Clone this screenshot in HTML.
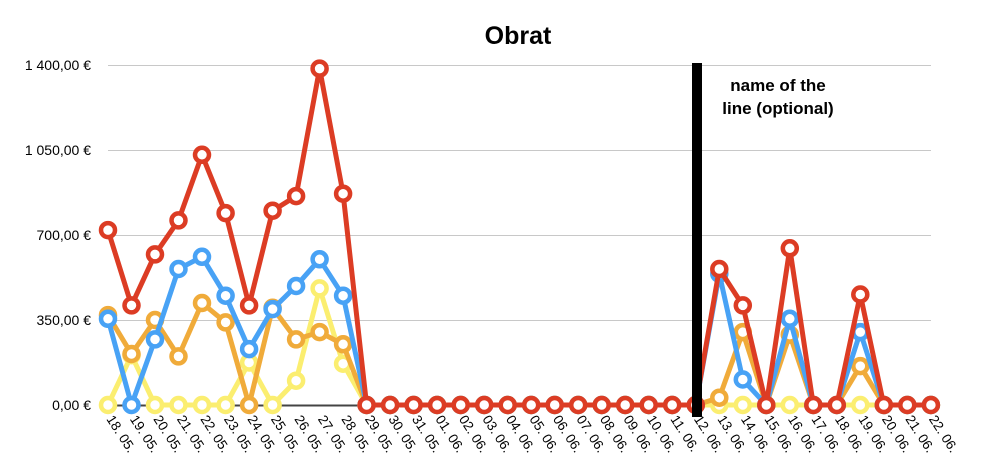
<!DOCTYPE html>
<html><head><meta charset="utf-8"><style>
body{margin:0;background:#fff}
svg{display:block;font-family:"Liberation Sans",sans-serif}
</style></head><body>
<svg id="s" width="982" height="462" xmlns="http://www.w3.org/2000/svg">
<text x="518" y="44" text-anchor="middle" font-size="25" font-weight="bold">Obrat</text>
<g stroke="#c8c8c8" stroke-width="1">
<line x1="108" x2="931" y1="65.5" y2="65.5"/>
<line x1="108" x2="931" y1="150.5" y2="150.5"/>
<line x1="108" x2="931" y1="235.5" y2="235.5"/>
<line x1="108" x2="931" y1="320.5" y2="320.5"/>
</g>
<line x1="100" x2="931" y1="405.5" y2="405.5" stroke="#444" stroke-width="2"/>
<g font-size="14" text-anchor="end" fill="#000">
<text x="91" y="70">1 400,00 €</text>
<text x="91" y="155">1 050,00 €</text>
<text x="91" y="240">700,00 €</text>
<text x="91" y="325">350,00 €</text>
<text x="91" y="410">0,00 €</text>
</g>
<g id="lbl" font-size="13.5">
<text transform="translate(106,419) rotate(57)">18. 05.</text>
<text transform="translate(129.5,419) rotate(57)">19. 05.</text>
<text transform="translate(153,419) rotate(57)">20. 05.</text>
<text transform="translate(176.5,419) rotate(57)">21. 05.</text>
<text transform="translate(200,419) rotate(57)">22. 05.</text>
<text transform="translate(223.5,419) rotate(57)">23. 05.</text>
<text transform="translate(247,419) rotate(57)">24. 05.</text>
<text transform="translate(270.5,419) rotate(57)">25. 05.</text>
<text transform="translate(294,419) rotate(57)">26. 05.</text>
<text transform="translate(317.5,419) rotate(57)">27. 05.</text>
<text transform="translate(341,419) rotate(57)">28. 05.</text>
<text transform="translate(364.5,419) rotate(57)">29. 05.</text>
<text transform="translate(388,419) rotate(57)">30. 05.</text>
<text transform="translate(411.5,419) rotate(57)">31. 05.</text>
<text transform="translate(435,419) rotate(57)">01. 06.</text>
<text transform="translate(458.5,419) rotate(57)">02. 06.</text>
<text transform="translate(482,419) rotate(57)">03. 06.</text>
<text transform="translate(505.5,419) rotate(57)">04. 06.</text>
<text transform="translate(529,419) rotate(57)">05. 06.</text>
<text transform="translate(552.5,419) rotate(57)">06. 06.</text>
<text transform="translate(576,419) rotate(57)">07. 06.</text>
<text transform="translate(599.5,419) rotate(57)">08. 06.</text>
<text transform="translate(623,419) rotate(57)">09. 06.</text>
<text transform="translate(646.5,419) rotate(57)">10. 06.</text>
<text transform="translate(670,419) rotate(57)">11. 06.</text>
<text transform="translate(693.5,419) rotate(57)">12. 06.</text>
<text transform="translate(717,419) rotate(57)">13. 06.</text>
<text transform="translate(740.5,419) rotate(57)">14. 06.</text>
<text transform="translate(764,419) rotate(57)">15. 06.</text>
<text transform="translate(787.5,419) rotate(57)">16. 06.</text>
<text transform="translate(811,419) rotate(57)">17. 06.</text>
<text transform="translate(834.5,419) rotate(57)">18. 06.</text>
<text transform="translate(858,419) rotate(57)">19. 06.</text>
<text transform="translate(881.5,419) rotate(57)">20. 06.</text>
<text transform="translate(905,419) rotate(57)">21. 06.</text>
<text transform="translate(928.5,419) rotate(57)">22. 06.</text>
</g>
<g id="series"></g>
<rect x="692" y="63" width="10" height="354" fill="#000"/>
<text x="778" y="91" text-anchor="middle" font-size="17" font-weight="bold">name of the</text>
<text x="778" y="114" text-anchor="middle" font-size="17" font-weight="bold">line (optional)</text>
</svg>
<script>
var z=new Array(36).fill(0);
function mk(a){var r=z.slice();for(var k in a)r[k]=a[k];return r;}
var series=[
 ["#fbee70",{1:205,6:175,8:100,9:480,10:170}],
 ["#f0ab3a",{0:370,1:210,2:350,3:200,4:420,5:340,6:0,7:400,8:270,9:300,10:250,26:30,27:300,29:290,32:160}],
 ["#48a2f5",{0:355,1:0,2:270,3:560,4:610,5:450,6:230,7:395,8:490,9:600,10:450,26:540,27:105,29:355,32:300}],
 ["#dc3c24",{0:720,1:410,2:620,3:760,4:1030,5:790,6:410,7:800,8:860,9:1385,10:870,26:560,27:410,29:645,32:455}]
];
var g=document.getElementById('series'),h="";
series.forEach(function(s){
 var d=mk(s[1]),pts=d.map(function(v,i){return (108+i*23.51).toFixed(1)+","+(405-v*0.2429).toFixed(1)});
 h+='<polyline fill="none" stroke="'+s[0]+'" stroke-width="5" stroke-linejoin="round" points="'+pts.join(" ")+'"/>';
 pts.forEach(function(p){var c=p.split(",");h+='<circle cx="'+c[0]+'" cy="'+c[1]+'" r="7" fill="#fff" stroke="'+s[0]+'" stroke-width="4.5"/>';});
});
g.innerHTML=h;
</script>
</body></html>
